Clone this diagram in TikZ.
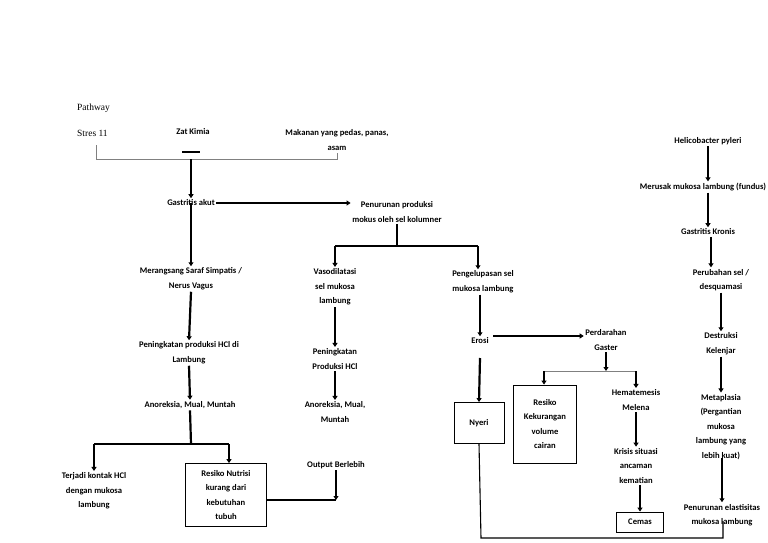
\documentclass[tikz,border=0pt]{standalone}
\usepackage{fontspec}
\setmainfont{Carlito}
\newfontfamily\tms{Liberation Serif}
\usetikzlibrary{arrows.meta}
\begin{document}
\begin{tikzpicture}[x=1pt,y=-1pt,
  t/.style={align=center,inner sep=1.5pt,font=\fontsize{8.6}{14.6}\selectfont\bfseries},
  bx/.style={t,draw,line width=0.9pt},
  arr/.style={line width=2.2pt,-{Triangle[length=4pt,width=5pt]}},
  ln/.style={line width=1.1pt},
  tl/.style={line width=2.2pt},
  gl/.style={line width=0.9pt,gray}]
\useasboundingbox (0,0) rectangle (768,543);
\fill[white] (0,0) rectangle (768,543);
% top-left
\node[anchor=west,font=\tms\fontsize{9.5}{11}\selectfont,inner sep=0] (pw) at (77,108) {Pathway};
\node[anchor=west,font=\tms\fontsize{9.5}{11}\selectfont,inner sep=0] (st) at (77,133) {Stres 11};
\node[t] (zk) at (193,132) {Zat Kimia};
\node[t] (mk) at (337,140) {Makanan yang pedas, panas,\\asam};
\coordinate (u1) at (182,152); \coordinate (u2) at (200,152);
\draw[ln] (u1) -- (u2);
\coordinate (b1) at (96,145); \coordinate (b2) at (96,159);
\coordinate (b3) at (337,159); \coordinate (b4) at (337,153);
\coordinate (b5) at (191,159);
\draw[gl] (b1) -- (b2) -- (b3) -- (b4);
\node[t] (ga) at (191,203) {Gastritis akut};
\draw[arr] (b5) -- (ga.north);
\node[t] (pp) at (397,212) {Penurunan produksi\\mokus oleh sel kolumner};
\draw[arr] (ga.east) -- (pp.west |- ga.east);
% left column
\node[t] (mr) at (191,279) {Merangsang Saraf Simpatis /\\Nerus Vagus};
\draw[arr] (ga.center) -- (mr.north);
\node[t] (ph) at (189,353) {Peningkatan produksi HCl di\\Lambung};
\draw[arr] (mr.south) -- (ph.north);
\node[t] (am) at (190,405) {Anoreksia, Mual, Muntah};
\draw[arr] (ph.south) -- (am.north);
\coordinate (j1) at (191,444); \coordinate (l1) at (94,444); \coordinate (r1) at (229,444);
\draw[tl] (am.south) -- (j1);
\draw[ln] (l1) -- (r1);
\node[t] (tk) at (94,491) {Terjadi kontak HCl\\dengan mukosa\\lambung};
\node[bx,minimum width=81pt,minimum height=63pt] (rn) at (226,495) {Resiko Nutrisi\\kurang dari\\kebutuhan\\tubuh};
\draw[arr] (l1) -- (tk.north);
\draw[arr] (r1) -- (rn.north -| r1);
\node[t] (ob) at (336,465) {Output Berlebih};
\coordinate (o1) at (336,500);
\draw[ln] (rn.east |- o1) -- (o1);
\draw[arr] (ob.south) -- (o1);
% middle column
\coordinate (pj) at (397,246); \coordinate (pl) at (335,246); \coordinate (pr) at (478,246);
\draw[ln] (pp.south) -- (pj);
\draw[ln] (pl) -- (pr);
\node[t] (vs) at (335,287) {Vasodilatasi\\sel mukosa\\lambung};
\draw[arr] (pl) -- (vs.north);
\node[t] (pk) at (335,359) {Peningkatan\\Produksi HCl};
\draw[arr] (vs.south) -- (pk.north);
\node[t] (am2) at (335,412) {Anoreksia, Mual,\\Muntah};
\draw[arr] (pk.south) -- (am2.north);
\node[t] (pg) at (483,282) {Pengelupasan sel\\mukosa lambung};
\draw[arr] (pr) -- (pg.north -| pr);
\node[t] (er) at (480,341) {Erosi};
\draw[arr] (pg.south -| er) -- (er.north);
\node[t] (pd) at (606,340) {Perdarahan\\Gaster};
\coordinate (e1) at (493,336);
\draw[arr] (e1) -- (pd.west |- e1);
\node[bx,minimum width=50pt,minimum height=41pt] (ny) at (479,423) {Nyeri};
\coordinate (e2) at (480,358);
\draw[arr] (e2) -- (ny.north);
\coordinate (h0) at (606,371); \coordinate (hl) at (544,371); \coordinate (hr) at (636,371);
\draw[arr] (pd.south) -- (h0);
\draw[gl] (hl) -- (hr);
\node[bx,minimum width=63pt,minimum height=78pt] (rk) at (545,424) {Resiko\\Kekurangan\\volume\\cairan};
\draw[arr] (hl) -- (rk.north -| hl);
\node[t] (hm) at (636,400) {Hematemesis\\Melena};
\draw[arr] (hr) -- (hm.north);
\node[t] (kr) at (636,466) {Krisis situasi\\ancaman\\kematian};
\draw[arr] (hm.south) -- (kr.north);
\node[bx,minimum width=47pt,minimum height=20pt] (cm) at (640,522) {Cemas};
\draw[arr] (kr.south -| cm) -- (cm.north);
% right column
\node[t] (hp) at (708,141) {Helicobacter pyleri};
\node[t] (ms) at (703,187) {Merusak mukosa lambung (fundus)};
\draw[arr] (hp.south) -- (hp.south |- ms.north);
\node[t] (gk) at (708,232) {Gastritis Kronis};
\draw[arr] (ms.south -| gk) -- (gk.north);
\node[t] (ps) at (721,280) {Perubahan sel /\\desquamasi};
\draw[arr] (gk.south -| 711,0) -- (ps.north -| 711,0);
\node[t] (dk) at (721,344) {Destruksi\\Kelenjar};
\draw[arr] (ps.south) -- (dk.north);
\node[t] (mt) at (721,427) {Metaplasia\\(Pergantian\\mukosa\\lambung yang\\lebih kuat)};
\draw[arr] (dk.south) -- (mt.north);
\node[t] (pe) at (722,515) {Penurunan elastisitas\\mukosa lambung};
\coordinate (m1) at (722,458);
\draw[arr] (m1) -- (pe.north);
% bottom connector
\coordinate (c1) at (481,538); \coordinate (c2) at (723,538); \coordinate (c3) at (723,521);
\draw[ln] (ny.south) -- (c1) -- (c2) -- (c3);
\end{tikzpicture}
\end{document}
